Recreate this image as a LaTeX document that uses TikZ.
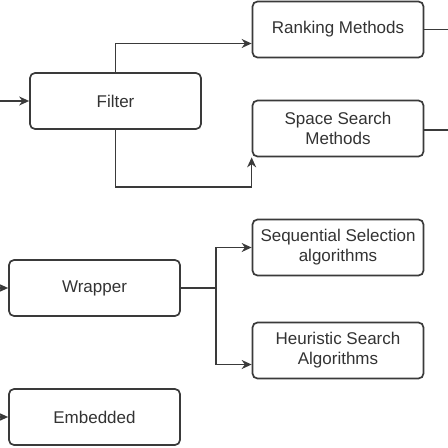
\documentclass[tikz,border=0pt]{standalone}
\usepackage{fontspec}
\setmainfont{Liberation Sans}
\usetikzlibrary{arrows.meta}
\definecolor{ln}{HTML}{3A3A3A}
\definecolor{tx}{HTML}{333333}
\begin{document}
\begin{tikzpicture}[x=2pt,y=2pt,
  box/.style={draw=ln,line width=3.4pt,rounded corners=10pt,fill=white,
    minimum width=342pt,minimum height=112pt,inner sep=0pt,align=center,
    text=tx,font=\fontsize{34}{40}\selectfont},
  conn/.style={draw=ln,line width=3.2pt},
  arr/.style={conn,-{Stealth[length=20pt,width=18pt]}}]
\useasboundingbox (0,0) rectangle (448,-448);
\node[box] (filter) at (115.5,-101) {Filter};
\node[box] (rank) at (338,-29.5) {Ranking Methods};
\node[box] (space) at (338,-128.5) {Space Search\\Methods};
\node[box] (seq) at (338,-247.5) {Sequential Selection\\algorithms};
\node[box] (heur) at (338,-350.5) {Heuristic Search\\Algorithms};
\node[box] (wrap) at (94.5,-288) {Wrapper};
\node[box] (emb) at (94.5,-417) {Embedded};
\coordinate (fin) at (0,-101);
\coordinate (win) at (-3,-288);
\coordinate (ein) at (-3,-417);
\coordinate (rout) at (448,-29.5);
\coordinate (sout) at (448,-130);
\coordinate (fork) at (216,-288);
\draw[arr] (fin) -- (filter.west);
\draw[arr] (win) -- (wrap.west);
\draw[arr] (ein) -- (emb.west);
\draw[arr] (filter.north) |- ([yshift=-28pt]rank.west);
\draw[arr] (filter.south) -- ++(0,-57) -| (space.south west);
\draw[conn] (rank.east) -- (rout);
\draw[conn] (space.east |- sout) -- (sout);
\draw[conn] (wrap.east) -- (fork);
\draw[arr] (fork) |- (seq.west);
\draw[arr] (fork) |- ([yshift=-28pt]heur.west);
\end{tikzpicture}
\end{document}
